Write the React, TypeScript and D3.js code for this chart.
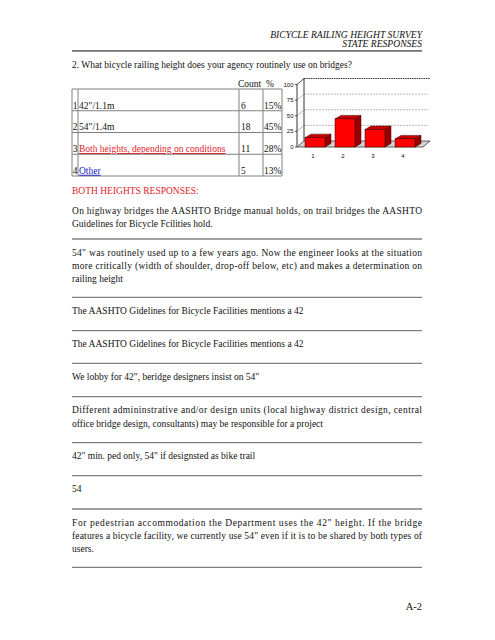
import React, { useEffect, useRef } from 'react';
import * as d3 from 'd3';

// table / chart data
const answerLabels = ['42"/1.1m', '54"/1.4m', 'Both heights, depending on conditions', 'Other'];
const answerCounts = [6, 18, 11, 5];
const answerPercents = [15, 45, 28, 13];
const answerColors = ['#111', '#111', '#e0222a', '#2424c8'];
const categories = ['1', '2', '3', '4'];
const yTicks = [0, 25, 50, 75, 100];

// free text responses, one array of lines per answer
const responses: string[][] = [
	[
		'On highway bridges the AASHTO Bridge manual holds, on trail bridges the AASHTO',
		'Guidelines for Bicycle Fcilities hold.',
	],
	[
		'54" was routinely used up to a few years ago. Now the engineer looks at the situation',
		'more critically (width of shoulder, drop-off below, etc) and makes a determination on',
		'railing height',
	],
	['The AASHTO Gidelines for Bicycle Facilities mentions a 42'],
	['The AASHTO Gidelines for Bicycle Facilities mentions a 42'],
	['We lobby for 42", beridge designers insist on 54"'],
	[
		'Different admininstrative and/or design units (local highway district design, central',
		'office bridge design, consultants) may be responsible for a project',
	],
	['42" min. ped only, 54" if designsted as bike trail'],
	['54'],
	[
		'For pedestrian accommodation the Department uses the 42" height. If the bridge',
		'features a bicycle facility, we currently use 54" even if it is to be shared by both types of',
		'users.',
	],
];
// top of each response block (rule above it)
const blockTops = [176, 239, 297.3, 330.7, 363.3, 396.7, 442.7, 475.7, 509];

const W = 495;
const H = 640;
const SERIF = '"Liberation Serif", "Times New Roman", serif';
const SANS = '"Liberation Sans", Arial, sans-serif';
const INK = '#111';

const App: React.FC = () => {
	const ref = useRef<SVGSVGElement>(null);

	useEffect(() => {
		const svg = d3.select(ref.current);
		svg.selectAll('*').remove();
		const left = 72;
		const right = 422;

		// page header
		svg.append('text')
			.attr('x', right)
			.attr('y', 37.5)
			.attr('text-anchor', 'end')
			.style('font', `italic 9.6px ${SERIF}`)
			.attr('fill', INK)
			.text('BICYCLE RAILING HEIGHT SURVEY');
		svg.append('text')
			.attr('x', right)
			.attr('y', 47)
			.attr('text-anchor', 'end')
			.style('font', `italic 9.6px ${SERIF}`)
			.attr('fill', INK)
			.text('STATE RESPONSES');
		svg.append('line')
			.attr('x1', left)
			.attr('x2', right)
			.attr('y1', 50.8)
			.attr('y2', 50.8)
			.attr('stroke', '#707070')
			.attr('stroke-width', 1.8);

		svg.append('text')
			.attr('x', left)
			.attr('y', 67.5)
			.style('font', `9.5px ${SERIF}`)
			.attr('fill', INK)
			.text('2. What bicycle railing height does your agency routinely use on bridges?');

		// ---- table ----
		const cols = [72, 78, 239, 263, 282];
		const rowY = d3.scaleBand<number>().domain(d3.range(answerLabels.length)).range([89, 176]);
		const tbl = svg.append('g');
		tbl.append('text').attr('x', 238).attr('y', 86.5).style('font', `9.5px ${SERIF}`).attr('fill', INK).text('Count');
		tbl.append('text').attr('x', 266).attr('y', 86.5).style('font', `9.5px ${SERIF}`).attr('fill', INK).text('%');
		cols.forEach((cx) => {
			tbl.append('line').attr('x1', cx).attr('x2', cx).attr('y1', 89).attr('y2', 176).attr('stroke', '#808080').attr('stroke-width', 1);
		});
		[...rowY.domain().map((d) => rowY(d) as number), 176].forEach((ry) => {
			tbl.append('line').attr('x1', 72).attr('x2', 282).attr('y1', ry).attr('y2', ry).attr('stroke', '#808080').attr('stroke-width', 1);
		});
		answerLabels.forEach((lab, i) => {
			const by = (rowY(i) as number) + 19.5;
			const t = (x: number, s: string, c = INK, u = false) =>
				tbl.append('text')
					.attr('x', x)
					.attr('y', by)
					.style('font', `9.5px ${SERIF}`)
					.style('text-decoration', u ? 'underline' : 'none')
					.attr('fill', c)
					.text(s);
			t(72.8, String(i + 1));
			t(79, lab, answerColors[i], i >= 2);
			t(241, String(answerCounts[i]));
			t(264, answerPercents[i] + '%');
		});

		// ---- 3D bar chart ----
		const floorY = 147;
		const axisX = 297;
		const depth = { dx: 7, dy: -6 };
		const y = d3.scaleLinear().domain([0, 100]).range([floorY, floorY - 62.5]);
		const x = d3.scaleBand<string>().domain(categories).range([300, 420]).paddingInner(1 / 3).paddingOuter(1 / 6);
		const chart = svg.append('g');
		const wallL = axisX + depth.dx;
		const wallR = 430;

		// back wall
		chart.append('rect')
			.attr('x', wallL)
			.attr('y', y(100) + depth.dy)
			.attr('width', wallR - wallL)
			.attr('height', y(0) - y(100))
			.attr('fill', '#ffffff');
		yTicks.filter((v) => v > 0 && v < 100).forEach((v) => {
			chart.append('line')
				.attr('x1', wallL)
				.attr('x2', wallR - 2)
				.attr('y1', y(v) + depth.dy)
				.attr('y2', y(v) + depth.dy)
				.attr('stroke', '#a8a8a8')
				.attr('stroke-width', 0.8)
				.attr('stroke-dasharray', '2,1');
		});
		chart.append('line')
			.attr('x1', wallL)
			.attr('x2', wallR)
			.attr('y1', y(100) + depth.dy)
			.attr('y2', y(100) + depth.dy)
			.attr('stroke', '#000')
			.attr('stroke-width', 0.8)
			.attr('stroke-dasharray', '1.5,0.8');
		chart.append('line')
			.attr('x1', wallL)
			.attr('x2', wallL)
			.attr('y1', y(100) + depth.dy)
			.attr('y2', y(0) + depth.dy)
			.attr('stroke', '#000')
			.attr('stroke-width', 0.8);

		// floor
		const floorRight = 423;
		chart.append('path')
			.attr('d', `M${axisX},${floorY}L${floorRight},${floorY}L${floorRight + depth.dx},${floorY + depth.dy}L${wallL},${floorY + depth.dy}Z`)
			.attr('fill', '#d4d4d4')
			.attr('stroke', '#000')
			.attr('stroke-width', 0.6);

		// left wall edges / y axis
		chart.append('line')
			.attr('x1', axisX)
			.attr('x2', axisX)
			.attr('y1', y(0))
			.attr('y2', y(100))
			.attr('stroke', '#000')
			.attr('stroke-width', 0.8);
		yTicks.forEach((v) => {
			chart.append('line')
				.attr('x1', axisX - 2)
				.attr('x2', axisX)
				.attr('y1', y(v))
				.attr('y2', y(v))
				.attr('stroke', '#000')
				.attr('stroke-width', 0.7);
			chart.append('line')
				.attr('x1', axisX)
				.attr('x2', wallL)
				.attr('y1', y(v))
				.attr('y2', y(v) + depth.dy)
				.attr('stroke', v === 100 ? '#000' : '#909090')
				.attr('stroke-width', 0.7);
			chart.append('text')
				.attr('x', 293.5)
				.attr('y', y(v) + 2)
				.attr('text-anchor', 'end')
				.style('font', `6px ${SANS}`)
				.attr('fill', INK)
				.text(String(v));
		});

		// bars
		const bd = { dx: 6, dy: -3.5 };
		const bw = x.bandwidth();
		categories.forEach((c, i) => {
			const x0 = x(c) as number;
			const yt = y(answerPercents[i]);
			const g = chart.append('g').attr('stroke', '#3a0000').attr('stroke-width', 0.5);
			// side
			g.append('path')
				.attr('d', `M${x0 + bw},${floorY}L${x0 + bw + bd.dx},${floorY + bd.dy}L${x0 + bw + bd.dx},${yt + bd.dy}L${x0 + bw},${yt}Z`)
				.attr('fill', '#9a0000');
			// top
			g.append('path')
				.attr('d', `M${x0},${yt}L${x0 + bd.dx},${yt + bd.dy}L${x0 + bw + bd.dx},${yt + bd.dy}L${x0 + bw},${yt}Z`)
				.attr('fill', '#c80000');
			// front
			g.append('rect')
				.attr('x', x0)
				.attr('y', yt)
				.attr('width', bw)
				.attr('height', floorY - yt)
				.attr('fill', '#ff0000');
			chart.append('text')
				.attr('x', x0 + bw / 2 - 2)
				.attr('y', 157.5)
				.attr('text-anchor', 'middle')
				.style('font', `6px ${SANS}`)
				.attr('fill', INK)
				.text(c);
		});

		// ---- responses ----
		svg.append('text')
			.attr('x', left)
			.attr('y', 193.5)
			.style('font', `9.5px ${SERIF}`)
			.attr('fill', '#e0222a')
			.text('BOTH HEIGHTS RESPONSES:');

		responses.forEach((lines, bi) => {
			const top = bi === 0 ? 197 : blockTops[bi];
			lines.forEach((ln, li) => {
				const tx = svg.append('text')
					.attr('x', left)
					.attr('y', top + 16.5 + li * 13.3)
					.style('font', `9.5px ${SERIF}`)
					.attr('fill', INK)
					.text(ln);
				if (li < lines.length - 1) tx.attr('textLength', right - left).attr('lengthAdjust', 'spacing');
			});
			const bottom = bi + 1 < blockTops.length ? blockTops[bi + 1] : 567.3;
			svg.append('line')
				.attr('x1', left)
				.attr('x2', right)
				.attr('y1', bottom)
				.attr('y2', bottom)
				.attr('stroke', '#808080')
				.attr('stroke-width', 1.3);
		});

		svg.append('text')
			.attr('x', right)
			.attr('y', 609.5)
			.attr('text-anchor', 'end')
			.style('font', `10.5px ${SERIF}`)
			.attr('fill', INK)
			.text('A-2');
	}, []);

	return (
		<div style={{ position: 'absolute', left: 0, top: 0, width: W, height: H, background: '#fff' }}>
			<svg ref={ref} width={W} height={H} />
		</div>
	);
};

export default App;
